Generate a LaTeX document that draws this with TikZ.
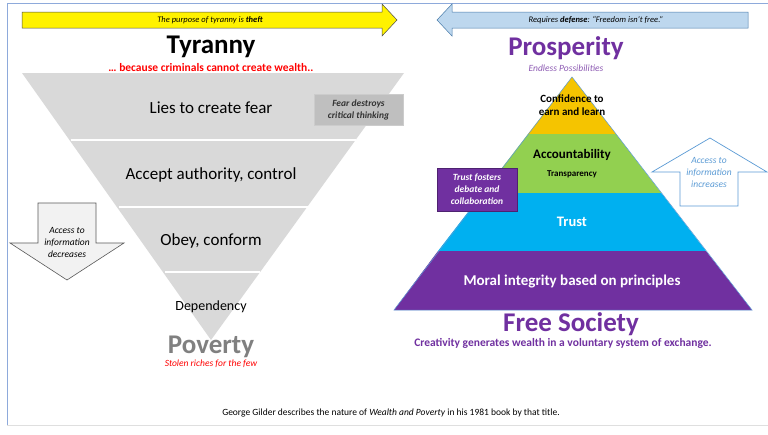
\documentclass[tikz,border=0pt]{standalone}
\usepackage{fontspec}
\setmainfont{Carlito}
\begin{document}
\begin{tikzpicture}[x=1pt,y=-1pt,
  lbl/.style={inner sep=0pt,align=center},
  band/.style={draw=white,line width=1.2pt}]
\definecolor{fr}{HTML}{8EAADB}
\definecolor{gr}{HTML}{D9D9D9}
\definecolor{py}{HTML}{F5C400}
\definecolor{pg}{HTML}{92D050}
\definecolor{pc}{HTML}{00B0F0}
\definecolor{pp}{HTML}{7030A0}
\definecolor{bl}{HTML}{5B9BD5}
\definecolor{lb}{HTML}{BDD7EE}
\useasboundingbox (0,0) rectangle (768,434);
\fill[white] (0,0) rectangle (768,434);
% frame
\draw[fr,line width=1pt] (7,425) -- (7,3) -- (768,3);
\draw[gray!25,line width=0.6pt] (7,425) -- (768,425);
% top arrows
\draw[fill=yellow,draw=gray!60!black,line width=0.5pt] (22,12) -- (382,12) -- (382,4) -- (397,20) -- (382,36) -- (382,28) -- (22,28) -- cycle;
\node[lbl,font=\fontsize{8.5}{9}\selectfont\itshape] (ya) at (210,20) {The purpose of tyranny is \textbf{theft}};
\draw[fill=lb,draw=bl!80!black,line width=0.5pt] (748,12) -- (452,12) -- (452,4) -- (437,20) -- (452,36) -- (452,28) -- (748,28) -- cycle;
\node[lbl,font=\fontsize{8.5}{9}\selectfont\itshape] (ba) at (596,20) {Requires \textbf{defense}: “Freedom isn’t free.”};
% left funnel
\fill[gr] (22,73) -- (404,73) -- (211,340) -- cycle;
\draw[band] (70.6,140) -- (355.6,140);
\draw[band] (118.5,207) -- (307.5,207);
\draw[band] (165,272) -- (260,272);
\node[lbl,font=\fontsize{27}{29}\selectfont\bfseries] (ty) at (211,47) {Tyranny};
\node[lbl,font=\fontsize{11.5}{12}\selectfont\bfseries,text=red] (tys) at (211,68) {\dots\ because criminals cannot create wealth..};
\node[lbl,font=\fontsize{17}{19}\selectfont] (l1) at (211,108) {Lies to create fear};
\node[lbl,font=\fontsize{17}{19}\selectfont] (l2) at (211,175) {Accept authority, control};
\node[lbl,font=\fontsize{17}{19}\selectfont] (l3) at (211,241) {Obey, conform};
\node[lbl,font=\fontsize{14}{16}\selectfont] (l4) at (211,307) {Dependency};
\node[lbl,font=\fontsize{27}{29}\selectfont\bfseries,text=gray] (pv) at (211,347) {Poverty};
\node[lbl,font=\fontsize{9.5}{10}\selectfont\itshape,text=red] (pvs) at (211,364) {Stolen riches for the few};
\node[fill=gray!50,draw=gray!40,minimum width=89pt,minimum height=31pt,inner sep=0pt,align=center,font=\fontsize{9.5}{12}\selectfont\bfseries\itshape,text=black!80] (fd) at (358.5,110) {Fear destroys\\critical thinking};
% down arrow
\draw[fill=gray!10,draw=gray!70!black,line width=0.6pt] (38,203) -- (96,203) -- (96,243) -- (124,243) -- (67,280) -- (10,243) -- (38,243) -- cycle;
\node[lbl,font=\fontsize{9.5}{12}\selectfont\itshape] (da) at (67,242) {Access to\\information\\decreases};
% right pyramid
\fill[py] (572,77) -- (616,134) -- (528,134) -- cycle;
\fill[pg] (528,134) -- (616,134) -- (661.3,193) -- (482.7,193) -- cycle;
\fill[pc] (482.7,193) -- (661.3,193) -- (706,251) -- (438,251) -- cycle;
\fill[pp] (438,251) -- (706,251) -- (752,310) -- (394,310) -- cycle;
\draw[bl,line width=0.5pt] (572,77) -- (752,310) -- (394,310) -- cycle;
\node[lbl,font=\fontsize{27}{29}\selectfont\bfseries,text=pp] (pr) at (566,48) {Prosperity};
\node[lbl,font=\fontsize{9.5}{10}\selectfont\itshape,text=pp!80] (prs) at (566,68) {Endless Possibilities};
\node[lbl,font=\fontsize{11}{13}\selectfont\bfseries] (p1) at (572,105) {Confidence to\\earn and learn};
\node[lbl,font=\fontsize{13}{14}\selectfont\bfseries] (p2) at (572,155) {Accountability};
\node[lbl,font=\fontsize{9}{10}\selectfont\bfseries] (p2s) at (572,174) {Transparency};
\node[lbl,font=\fontsize{14.5}{16}\selectfont\bfseries,text=white] (p3) at (572,222) {Trust};
\node[lbl,font=\fontsize{15}{16}\selectfont\bfseries,text=white] (p4) at (572,282) {Moral integrity based on principles};
\node[lbl,font=\fontsize{27}{29}\selectfont\bfseries,text=pp] (fs) at (571,324) {Free Society};
\node[lbl,font=\fontsize{11.5}{12}\selectfont\bfseries,text=pp] (fss) at (563,343) {Creativity generates wealth in a voluntary system of exchange.};
\node[fill=pp,draw=pp!70!black,minimum width=80pt,minimum height=43pt,inner sep=0pt,align=center,font=\fontsize{9.5}{12}\selectfont\bfseries\itshape,text=white] (tf) at (477,189.5) {Trust fosters\\debate and\\collaboration};
% up arrow
\draw[fill=white,draw=bl,line width=0.7pt] (680,206) -- (738,206) -- (738,172) -- (767,172) -- (710,138) -- (652,172) -- (680,172) -- cycle;
\node[lbl,font=\fontsize{9.5}{12}\selectfont\itshape,text=bl] (ua) at (709,172) {Access to\\information\\increases};
% footer
\node[lbl,font=\fontsize{9.5}{10}\selectfont] (ft) at (391,413) {George Gilder describes the nature of \textit{Wealth and Poverty} in his 1981 book by that title.};
\end{tikzpicture}
\end{document}
